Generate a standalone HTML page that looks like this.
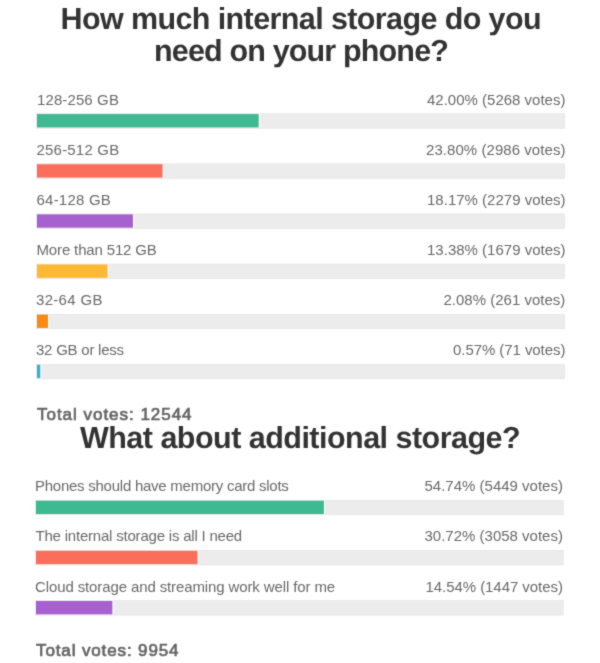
<!DOCTYPE html>
<html lang="en">
<head>
<meta charset="utf-8">
<title>Poll results</title>
<style>
html,body{margin:0;padding:0;background:#fff;}
body{width:600px;height:663px;position:relative;overflow:hidden;filter:url(#soft);font-family:"Liberation Sans",sans-serif;}
svg{position:absolute;left:0;top:0;}
h2,ul,li,p{margin:0;padding:0;list-style:none;font-size:0;line-height:0;}
.hl{position:absolute;font-weight:bold;color:#333;font-size:30.5px;line-height:36px;text-rendering:geometricPrecision;white-space:nowrap;}
.t{position:absolute;font-size:15px;line-height:18px;color:#6a6a6a;white-space:nowrap;}
.tot{position:absolute;font-weight:normal;-webkit-text-stroke:0.7px #666;font-size:17px;color:#666;line-height:20px;white-space:nowrap;}
</style>
</head>
<body>
<svg width="600" height="663" viewBox="0 0 600 663">
<defs><filter id="soft" x="0" y="0" width="100%" height="100%" color-interpolation-filters="sRGB"><feConvolveMatrix order="3" kernelMatrix="0.0192 0.1001 0.0192 0.1001 0.5228 0.1001 0.0192 0.1001 0.0192" edgeMode="duplicate" preserveAlpha="true"/></filter></defs>
<rect x="36.6" y="113.65" width="528" height="14.6" fill="#ececec" stroke="#e0e0e0" stroke-width="0.5"/>
<rect x="37" y="114.10" width="221.76" height="13.3" fill="#3eb991"/>
<rect x="258.76" y="113.65" width="1.2" height="14.6" fill="#fff" fill-opacity="0.65"/>
<rect x="36.6" y="163.78" width="528" height="14.6" fill="#ececec" stroke="#e0e0e0" stroke-width="0.5"/>
<rect x="37" y="164.23" width="125.66" height="13.3" fill="#fb6e5b"/>
<rect x="162.66" y="163.78" width="1.2" height="14.6" fill="#fff" fill-opacity="0.65"/>
<rect x="36.6" y="213.91" width="528" height="14.6" fill="#ececec" stroke="#e0e0e0" stroke-width="0.5"/>
<rect x="37" y="214.36" width="95.94" height="13.3" fill="#a760cf"/>
<rect x="132.94" y="213.91" width="1.2" height="14.6" fill="#fff" fill-opacity="0.65"/>
<rect x="36.6" y="264.04" width="528" height="14.6" fill="#ececec" stroke="#e0e0e0" stroke-width="0.5"/>
<rect x="37" y="264.49" width="70.65" height="13.3" fill="#fdb933"/>
<rect x="107.65" y="264.04" width="1.2" height="14.6" fill="#fff" fill-opacity="0.65"/>
<rect x="36.6" y="314.17" width="528" height="14.6" fill="#ececec" stroke="#e0e0e0" stroke-width="0.5"/>
<rect x="37" y="314.62" width="10.98" height="13.3" fill="#fa8a12"/>
<rect x="47.98" y="314.17" width="1.2" height="14.6" fill="#fff" fill-opacity="0.65"/>
<rect x="36.6" y="364.30" width="528" height="14.6" fill="#ececec" stroke="#e0e0e0" stroke-width="0.5"/>
<rect x="37" y="364.75" width="3.40" height="13.3" fill="#35b1d9"/>
<rect x="40.40" y="364.30" width="1.2" height="14.6" fill="#fff" fill-opacity="0.65"/>
<rect x="35.6" y="500.25" width="527.6" height="14.6" fill="#ececec" stroke="#e0e0e0" stroke-width="0.5"/>
<rect x="36" y="500.70" width="287.93" height="13.3" fill="#3eb991"/>
<rect x="323.93" y="500.25" width="1.2" height="14.6" fill="#fff" fill-opacity="0.65"/>
<rect x="35.6" y="550.40" width="527.6" height="14.6" fill="#ececec" stroke="#e0e0e0" stroke-width="0.5"/>
<rect x="36" y="550.85" width="161.59" height="13.3" fill="#fb6e5b"/>
<rect x="197.59" y="550.40" width="1.2" height="14.6" fill="#fff" fill-opacity="0.65"/>
<rect x="35.6" y="600.55" width="527.6" height="14.6" fill="#ececec" stroke="#e0e0e0" stroke-width="0.5"/>
<rect x="36" y="601.00" width="76.48" height="13.3" fill="#a760cf"/>
<rect x="112.48" y="600.55" width="1.2" height="14.6" fill="#fff" fill-opacity="0.65"/>
</svg>
<section class="poll">
<h2><span id="h1a" class="hl" style="left:60.50px;top:1px;letter-spacing:-0.606px">How much internal storage do you</span> <span id="h1b" class="hl" style="left:154.00px;top:33px;letter-spacing:-0.844px">need on your phone?</span></h2>
<ul>
<li><span id="p1l0" class="t" style="left:37.00px;top:91px;letter-spacing:0.111px">128-256 GB</span> <span id="p1r0" class="t" style="left:427.00px;top:91px;letter-spacing:0.000px">42.00% (5268 votes)</span></li>
<li><span id="p1l1" class="t" style="left:36.50px;top:141px;letter-spacing:0.200px">256-512 GB</span> <span id="p1r1" class="t" style="left:426.00px;top:141px;letter-spacing:0.056px">23.80% (2986 votes)</span></li>
<li><span id="p1l2" class="t" style="left:36.50px;top:191px;letter-spacing:0.225px">64-128 GB</span> <span id="p1r2" class="t" style="left:427.00px;top:191px;letter-spacing:0.011px">18.17% (2279 votes)</span></li>
<li><span id="p1l3" class="t" style="left:36.50px;top:241px;letter-spacing:-0.147px">More than 512 GB</span> <span id="p1r3" class="t" style="left:427.00px;top:241px;letter-spacing:0.011px">13.38% (1679 votes)</span></li>
<li><span id="p1l4" class="t" style="left:36.00px;top:291px;letter-spacing:0.314px">32-64 GB</span> <span id="p1r4" class="t" style="left:443.50px;top:291px;letter-spacing:0.000px">2.08% (261 votes)</span></li>
<li><span id="p1l5" class="t" style="left:36.00px;top:341px;letter-spacing:-0.233px">32 GB or less</span> <span id="p1r5" class="t" style="left:453.00px;top:341px;letter-spacing:-0.067px">0.57% (71 votes)</span></li>
</ul>
<p><strong id="tot1" class="tot" style="left:37.00px;top:405px;letter-spacing:0.976px">Total votes: 12544</strong></p>
</section>
<section class="poll">
<h2><span id="h2a" class="hl" style="left:80.00px;top:420px;letter-spacing:-0.524px">What about additional storage?</span></h2>
<ul>
<li><span id="p2l0" class="t" style="left:35.00px;top:477px;letter-spacing:-0.251px">Phones should have memory card slots</span> <span id="p2r0" class="t" style="left:424.50px;top:477px;letter-spacing:0.000px">54.74% (5449 votes)</span></li>
<li><span id="p2l1" class="t" style="left:35.50px;top:527px;letter-spacing:-0.206px">The internal storage is all I need</span> <span id="p2r1" class="t" style="left:424.50px;top:527px;letter-spacing:0.000px">30.72% (3058 votes)</span></li>
<li><span id="p2l2" class="t" style="left:35.00px;top:578px;letter-spacing:-0.116px">Cloud storage and streaming work well for me</span> <span id="p2r2" class="t" style="left:425.50px;top:578px;letter-spacing:-0.056px">14.54% (1447 votes)</span></li>
</ul>
<p><strong id="tot2" class="tot" style="left:36.00px;top:641px;letter-spacing:0.875px">Total votes: 9954</strong></p>
</section>
</body>
</html>
